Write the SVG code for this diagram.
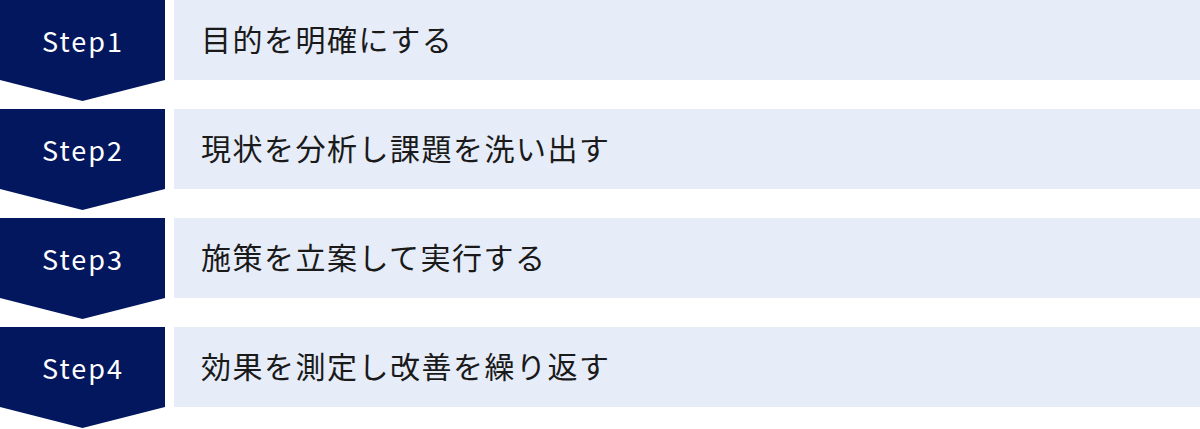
<svg xmlns="http://www.w3.org/2000/svg" width="1200" height="429" viewBox="0 0 1200 429">
<style>
.step{fill:#03175F}
.bar{fill:#E6ECF8}
.lbl{font-family:"Noto Sans CJK JP","Noto Sans",sans-serif;font-size:27px;fill:#FFFFFF;letter-spacing:2px}
.txt{font-family:"Noto Sans CJK JP","Noto Sans",sans-serif;font-size:30px;fill:#1a1a1a;letter-spacing:1.5px}
</style>
<defs>
<path id="chev" d="M0 0H165V80L82.5 101L0 80Z"/>
</defs>
<g id="connectors"></g>
<g id="step1">
<use href="#chev" class="step"/>
<rect class="bar" x="174" y="0" width="1026" height="80"/>
<text class="lbl" x="83" y="52" text-anchor="middle">Step1</text>
<text class="txt" x="201" y="51">目的を明確にする</text>
</g>
<g id="step2" transform="translate(0,109)">
<use href="#chev" class="step"/>
<rect class="bar" x="174" y="0" width="1026" height="80"/>
<text class="lbl" x="83" y="52" text-anchor="middle">Step2</text>
<text class="txt" x="201" y="51">現状を分析し課題を洗い出す</text>
</g>
<g id="step3" transform="translate(0,218)">
<use href="#chev" class="step"/>
<rect class="bar" x="174" y="0" width="1026" height="80"/>
<text class="lbl" x="83" y="52" text-anchor="middle">Step3</text>
<text class="txt" x="201" y="51">施策を立案して実行する</text>
</g>
<g id="step4" transform="translate(0,327)">
<use href="#chev" class="step"/>
<rect class="bar" x="174" y="0" width="1026" height="80"/>
<text class="lbl" x="83" y="52" text-anchor="middle">Step4</text>
<text class="txt" x="201" y="51">効果を測定し改善を繰り返す</text>
</g>
</svg>
